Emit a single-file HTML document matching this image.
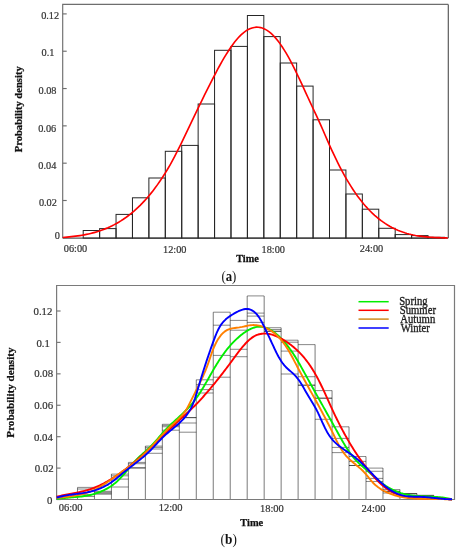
<!DOCTYPE html>
<html><head><meta charset="utf-8"><title>Probability density</title>
<style>html,body{margin:0;padding:0;background:#fff;width:460px;height:550px;overflow:hidden}svg{display:block}</style>
</head><body>
<svg width="460" height="550" viewBox="0 0 460 550">
<rect width="460" height="550" fill="#fff"/>
<g stroke="#6e6e6e" stroke-width="1.15" fill="none">
<path d="M62.70,238.10 V4.40 H448.30"/>
<path d="M448.30,4.40 V238.10" stroke="#555"/>
<path d="M62.70,238.10 H448.30" stroke="#555"/>
<path d="M62.70,13.90 h4"/>
<path d="M62.70,51.22 h4"/>
<path d="M62.70,88.54 h4"/>
<path d="M62.70,125.86 h4"/>
<path d="M62.70,163.18 h4"/>
<path d="M62.70,200.50 h4"/>
<path d="M62.70,237.82 h4"/>
</g>
<g fill="none" stroke="#262626" stroke-width="1.0"><rect x="83.20" y="230.50" width="16.42" height="7.60"/><rect x="99.62" y="228.60" width="16.42" height="9.50"/><rect x="116.04" y="214.40" width="16.42" height="23.70"/><rect x="132.46" y="197.80" width="16.42" height="40.30"/><rect x="148.88" y="178.00" width="16.42" height="60.10"/><rect x="165.30" y="151.30" width="16.42" height="86.80"/><rect x="181.72" y="145.40" width="16.42" height="92.70"/><rect x="198.14" y="104.00" width="16.42" height="134.10"/><rect x="214.56" y="50.30" width="16.42" height="187.80"/><rect x="230.98" y="46.40" width="16.42" height="191.70"/><rect x="247.40" y="15.50" width="16.42" height="222.60"/><rect x="263.82" y="36.60" width="16.42" height="201.50"/><rect x="280.24" y="63.00" width="16.42" height="175.10"/><rect x="296.66" y="86.10" width="16.42" height="152.00"/><rect x="313.08" y="119.80" width="16.42" height="118.30"/><rect x="329.50" y="170.00" width="16.42" height="68.10"/><rect x="345.92" y="194.00" width="16.42" height="44.10"/><rect x="362.34" y="209.20" width="16.42" height="28.90"/><rect x="378.76" y="228.30" width="16.42" height="9.80"/><rect x="395.18" y="234.60" width="16.42" height="3.50"/><rect x="411.60" y="235.60" width="16.42" height="2.50"/><rect x="428.02" y="237.30" width="16.42" height="0.80"/></g>
<path d="M62.70,237.45 L64.85,237.28 L67.00,237.09 L69.15,236.89 L71.31,236.67 L73.46,236.43 L75.61,236.17 L77.76,235.88 L79.91,235.56 L82.06,235.21 L84.21,234.83 L86.37,234.41 L88.52,233.95 L90.67,233.46 L92.82,232.92 L94.97,232.33 L97.12,231.70 L99.27,231.02 L101.43,230.28 L103.58,229.49 L105.73,228.64 L107.88,227.74 L110.03,226.77 L112.18,225.74 L114.33,224.64 L116.48,223.47 L118.64,222.22 L120.79,220.91 L122.94,219.52 L125.09,218.05 L127.24,216.49 L129.39,214.86 L131.54,213.14 L133.70,211.33 L135.85,209.42 L138.00,207.43 L140.15,205.34 L142.30,203.15 L144.45,200.86 L146.60,198.47 L148.76,195.97 L150.91,193.36 L153.06,190.65 L155.21,187.82 L157.36,184.87 L159.51,181.81 L161.66,178.63 L163.82,175.32 L165.97,171.88 L168.12,168.29 L170.27,164.57 L172.42,160.69 L174.57,156.66 L176.72,152.49 L178.88,148.21 L181.03,143.84 L183.18,139.40 L185.33,134.92 L187.48,130.43 L189.63,125.92 L191.78,121.42 L193.94,116.92 L196.09,112.43 L198.24,107.96 L200.39,103.51 L202.54,99.09 L204.69,94.70 L206.84,90.36 L208.99,86.06 L211.15,81.81 L213.30,77.63 L215.45,73.51 L217.60,69.46 L219.75,65.51 L221.90,61.67 L224.05,57.96 L226.21,54.38 L228.36,50.96 L230.51,47.72 L232.66,44.66 L234.81,41.81 L236.96,39.18 L239.11,36.79 L241.27,34.65 L243.42,32.77 L245.57,31.16 L247.72,29.82 L249.87,28.75 L252.02,27.95 L254.17,27.44 L256.33,27.20 L258.48,27.25 L260.63,27.58 L262.78,28.20 L264.93,29.12 L267.08,30.33 L269.23,31.84 L271.39,33.64 L273.54,35.74 L275.69,38.11 L277.84,40.74 L279.99,43.62 L282.14,46.75 L284.29,50.11 L286.45,53.68 L288.60,57.46 L290.75,61.43 L292.90,65.59 L295.05,69.89 L297.20,74.33 L299.35,78.86 L301.51,83.47 L303.66,88.13 L305.81,92.81 L307.96,97.49 L310.11,102.13 L312.26,106.74 L314.41,111.32 L316.56,115.92 L318.72,120.59 L320.87,125.37 L323.02,130.27 L325.17,135.23 L327.32,140.19 L329.47,145.08 L331.62,149.84 L333.78,154.47 L335.93,158.96 L338.08,163.32 L340.23,167.54 L342.38,171.61 L344.53,175.54 L346.68,179.32 L348.84,182.95 L350.99,186.42 L353.14,189.74 L355.29,192.91 L357.44,195.94 L359.59,198.83 L361.74,201.57 L363.90,204.19 L366.05,206.67 L368.20,209.02 L370.35,211.25 L372.50,213.35 L374.65,215.34 L376.80,217.22 L378.96,218.98 L381.11,220.64 L383.26,222.19 L385.41,223.65 L387.56,225.00 L389.71,226.27 L391.86,227.44 L394.02,228.53 L396.17,229.54 L398.32,230.46 L400.47,231.31 L402.62,232.09 L404.77,232.80 L406.92,233.45 L409.07,234.03 L411.23,234.56 L413.38,235.03 L415.53,235.45 L417.68,235.82 L419.83,236.15 L421.98,236.44 L424.13,236.69 L426.29,236.90 L428.44,237.09 L430.59,237.25 L432.74,237.38 L434.89,237.50 L437.04,237.60 L439.19,237.69 L441.35,237.77 L443.50,237.84 L445.65,237.91 L447.80,237.99" fill="none" stroke="#ff0000" stroke-width="1.65"/>
<g stroke="#7a7a7a" stroke-width="1.2" fill="none">
<path d="M56.6,285.5 L454.5,285.5 L454.5,499.5 L56.6,499.5 Z"/>
<path d="M56.60,311.00 h4"/>
<path d="M56.60,342.42 h4"/>
<path d="M56.60,373.84 h4"/>
<path d="M56.60,405.26 h4"/>
<path d="M56.60,436.68 h4"/>
<path d="M56.60,468.10 h4"/>
<path d="M56.60,499.52 h4"/>
</g>
<path d="M77.50,487.40V499.50M94.47,487.40V499.50M111.44,474.10V499.50M128.41,462.40V499.50M145.38,446.10V499.50M162.35,424.30V499.50M179.32,417.60V499.50M196.29,379.80V499.50M213.26,312.20V499.50M230.23,312.20V499.50M247.20,295.90V499.50M264.17,295.90V499.50M281.14,327.70V499.50M298.11,340.20V499.50M315.08,344.60V499.50M332.05,390.60V499.50M349.02,426.80V499.50M365.99,456.50V499.50M382.96,468.10V499.50M399.93,489.60V499.50M416.90,493.50V499.50M433.87,495.40V499.50" fill="none" stroke="#808080" stroke-width="1.05"/>
<g fill="none" stroke="#000" stroke-opacity="0.45" stroke-width="1.05"><path d="M77.50,487.40H94.47"/><path d="M77.50,489.00H94.47"/><path d="M77.50,494.60H94.47"/><path d="M77.50,496.50H94.47"/><path d="M94.47,491.30H111.44"/><path d="M94.47,492.30H111.44"/><path d="M94.47,493.30H111.44"/><path d="M94.47,494.20H111.44"/><path d="M111.44,474.10H128.41"/><path d="M111.44,475.80H128.41"/><path d="M111.44,479.10H128.41"/><path d="M111.44,487.00H128.41"/><path d="M128.41,462.40H145.38"/><path d="M128.41,463.70H145.38"/><path d="M128.41,467.60H145.38"/><path d="M128.41,468.20H145.38"/><path d="M145.38,446.10H162.35"/><path d="M145.38,447.40H162.35"/><path d="M145.38,449.00H162.35"/><path d="M145.38,453.30H162.35"/><path d="M162.35,424.30H179.32"/><path d="M162.35,425.40H179.32"/><path d="M162.35,426.70H179.32"/><path d="M162.35,430.20H179.32"/><path d="M179.32,417.60H196.29"/><path d="M179.32,417.60H196.29"/><path d="M179.32,423.00H196.29"/><path d="M179.32,432.20H196.29"/><path d="M196.29,379.80H213.26"/><path d="M196.29,384.60H213.26"/><path d="M196.29,389.60H213.26"/><path d="M196.29,393.00H213.26"/><path d="M213.26,312.20H230.23"/><path d="M213.26,325.20H230.23"/><path d="M213.26,355.40H230.23"/><path d="M213.26,377.20H230.23"/><path d="M230.23,320.40H247.20"/><path d="M230.23,330.20H247.20"/><path d="M230.23,349.30H247.20"/><path d="M230.23,356.70H247.20"/><path d="M247.20,295.90H264.17"/><path d="M247.20,313.10H264.17"/><path d="M247.20,316.10H264.17"/><path d="M247.20,322.40H264.17"/><path d="M264.17,327.70H281.14"/><path d="M264.17,329.50H281.14"/><path d="M264.17,331.30H281.14"/><path d="M264.17,331.30H281.14"/><path d="M281.14,340.20H298.11"/><path d="M281.14,342.20H298.11"/><path d="M281.14,351.10H298.11"/><path d="M281.14,374.00H298.11"/><path d="M298.11,344.60H315.08"/><path d="M298.11,376.70H315.08"/><path d="M298.11,385.20H315.08"/><path d="M298.11,385.20H315.08"/><path d="M315.08,390.60H332.05"/><path d="M315.08,398.20H332.05"/><path d="M315.08,398.20H332.05"/><path d="M315.08,419.30H332.05"/><path d="M332.05,426.80H349.02"/><path d="M332.05,438.40H349.02"/><path d="M332.05,447.40H349.02"/><path d="M332.05,452.60H349.02"/><path d="M349.02,456.50H365.99"/><path d="M349.02,461.40H365.99"/><path d="M349.02,465.50H365.99"/><path d="M349.02,465.50H365.99"/><path d="M365.99,468.10H382.96"/><path d="M365.99,471.30H382.96"/><path d="M365.99,478.40H382.96"/><path d="M365.99,481.50H382.96"/><path d="M382.96,489.60H399.93"/><path d="M382.96,491.40H399.93"/><path d="M382.96,491.40H399.93"/><path d="M382.96,493.00H399.93"/><path d="M399.93,493.50H416.90"/><path d="M399.93,493.50H416.90"/><path d="M399.93,495.00H416.90"/><path d="M399.93,496.50H416.90"/><path d="M416.90,495.40H433.87"/><path d="M416.90,495.40H433.87"/><path d="M416.90,497.00H433.87"/><path d="M416.90,498.00H433.87"/></g>
<path d="M56.66,498.93 L57.99,498.74 L59.34,498.56 L60.69,498.39 L62.05,498.24 L63.42,498.10 L64.80,497.97 L66.18,497.85 L67.57,497.73 L68.96,497.62 L70.35,497.51 L71.75,497.40 L73.15,497.28 L74.56,497.16 L75.96,497.04 L77.36,496.91 L78.76,496.76 L80.16,496.61 L81.56,496.44 L82.95,496.26 L84.34,496.06 L85.73,495.84 L87.11,495.60 L88.48,495.33 L89.84,495.05 L91.20,494.73 L92.55,494.39 L93.89,494.02 L95.22,493.62 L96.53,493.20 L97.84,492.74 L99.14,492.26 L100.42,491.76 L101.69,491.22 L102.94,490.66 L104.18,490.07 L105.41,489.46 L106.62,488.81 L107.81,488.14 L108.99,487.44 L110.15,486.71 L111.29,485.96 L112.41,485.18 L113.51,484.37 L114.59,483.53 L115.65,482.66 L116.69,481.77 L117.71,480.85 L118.71,479.91 L119.68,478.93 L120.64,477.94 L121.59,476.93 L122.52,475.90 L123.44,474.86 L124.35,473.80 L125.25,472.73 L126.15,471.66 L127.04,470.58 L127.93,469.49 L128.82,468.41 L129.71,467.32 L130.61,466.24 L131.51,465.16 L132.42,464.09 L133.34,463.03 L134.26,461.99 L135.21,460.95 L136.16,459.94 L137.14,458.94 L138.13,457.96 L139.13,457.00 L140.15,456.06 L141.18,455.12 L142.22,454.20 L143.25,453.27 L144.29,452.35 L145.33,451.43 L146.37,450.51 L147.39,449.58 L148.41,448.64 L149.41,447.68 L150.40,446.71 L151.37,445.73 L152.33,444.72 L153.27,443.71 L154.21,442.68 L155.13,441.64 L156.05,440.60 L156.96,439.55 L157.86,438.49 L158.77,437.44 L159.67,436.38 L160.58,435.32 L161.49,434.27 L162.41,433.23 L163.33,432.19 L164.27,431.16 L165.21,430.14 L166.17,429.13 L167.14,428.14 L168.12,427.16 L169.11,426.18 L170.11,425.22 L171.11,424.26 L172.12,423.30 L173.14,422.36 L174.16,421.41 L175.18,420.47 L176.20,419.53 L177.23,418.60 L178.25,417.66 L179.27,416.72 L180.29,415.78 L181.31,414.83 L182.31,413.88 L183.32,412.93 L184.31,411.96 L185.30,410.99 L186.27,410.02 L187.24,409.03 L188.19,408.03 L189.13,407.02 L190.06,406.00 L190.97,404.96 L191.86,403.91 L192.74,402.84 L193.60,401.76 L194.45,400.66 L195.28,399.55 L196.10,398.43 L196.91,397.30 L197.70,396.16 L198.49,395.01 L199.26,393.85 L200.02,392.68 L200.77,391.50 L201.51,390.32 L202.25,389.12 L202.97,387.93 L203.69,386.72 L204.41,385.52 L205.12,384.31 L205.82,383.09 L206.52,381.88 L207.21,380.66 L207.91,379.44 L208.60,378.22 L209.29,377.00 L209.98,375.78 L210.66,374.57 L211.35,373.35 L212.04,372.14 L212.74,370.94 L213.43,369.73 L214.13,368.54 L214.83,367.35 L215.54,366.16 L216.25,364.98 L216.97,363.81 L217.69,362.64 L218.42,361.49 L219.16,360.33 L219.91,359.19 L220.67,358.05 L221.44,356.92 L222.22,355.79 L223.01,354.68 L223.81,353.57 L224.62,352.47 L225.45,351.38 L226.29,350.29 L227.15,349.22 L228.02,348.15 L228.91,347.09 L229.82,346.04 L230.74,344.99 L231.68,343.96 L232.64,342.94 L233.62,341.92 L234.62,340.91 L235.65,339.92 L236.69,338.93 L237.75,337.95 L238.84,336.99 L239.95,336.03 L241.08,335.10 L242.23,334.19 L243.39,333.32 L244.57,332.47 L245.76,331.67 L246.97,330.90 L248.19,330.19 L249.41,329.53 L250.65,328.92 L251.89,328.38 L253.14,327.90 L254.39,327.50 L255.64,327.17 L256.89,326.93 L258.14,326.77 L259.40,326.70 L260.64,326.72 L261.88,326.84 L263.12,327.04 L264.35,327.32 L265.58,327.68 L266.79,328.12 L268.00,328.63 L269.20,329.21 L270.39,329.85 L271.56,330.55 L272.73,331.30 L273.88,332.11 L275.02,332.97 L276.14,333.86 L277.25,334.80 L278.34,335.78 L279.42,336.79 L280.48,337.82 L281.52,338.89 L282.53,339.97 L283.53,341.07 L284.51,342.18 L285.47,343.30 L286.40,344.43 L287.31,345.56 L288.20,346.69 L289.07,347.83 L289.91,348.97 L290.74,350.11 L291.56,351.26 L292.35,352.41 L293.13,353.57 L293.89,354.73 L294.64,355.89 L295.38,357.05 L296.10,358.22 L296.82,359.39 L297.52,360.56 L298.22,361.74 L298.90,362.91 L299.58,364.09 L300.26,365.28 L300.92,366.46 L301.59,367.65 L302.25,368.84 L302.90,370.03 L303.56,371.22 L304.21,372.42 L304.87,373.61 L305.53,374.81 L306.19,376.01 L306.85,377.21 L307.51,378.41 L308.17,379.62 L308.84,380.82 L309.51,382.03 L310.18,383.24 L310.85,384.45 L311.52,385.66 L312.19,386.87 L312.87,388.08 L313.54,389.30 L314.22,390.51 L314.90,391.73 L315.58,392.94 L316.26,394.16 L316.94,395.38 L317.62,396.60 L318.31,397.82 L318.99,399.04 L319.67,400.26 L320.36,401.48 L321.04,402.70 L321.73,403.92 L322.41,405.15 L323.10,406.37 L323.78,407.59 L324.47,408.82 L325.16,410.04 L325.84,411.26 L326.53,412.49 L327.21,413.71 L327.90,414.93 L328.58,416.16 L329.27,417.38 L329.95,418.61 L330.63,419.83 L331.32,421.05 L332.00,422.27 L332.68,423.50 L333.36,424.72 L334.04,425.94 L334.71,427.16 L335.39,428.38 L336.07,429.60 L336.74,430.82 L337.41,432.04 L338.09,433.25 L338.76,434.47 L339.43,435.68 L340.10,436.90 L340.78,438.10 L341.45,439.31 L342.14,440.51 L342.82,441.70 L343.52,442.89 L344.22,444.08 L344.93,445.26 L345.65,446.42 L346.37,447.59 L347.11,448.74 L347.87,449.88 L348.63,451.01 L349.41,452.14 L350.21,453.25 L351.02,454.35 L351.85,455.43 L352.70,456.51 L353.57,457.57 L354.46,458.61 L355.37,459.64 L356.30,460.65 L357.26,461.65 L358.24,462.63 L359.25,463.60 L360.28,464.54 L361.33,465.47 L362.40,466.40 L363.48,467.31 L364.56,468.23 L365.65,469.14 L366.73,470.06 L367.80,470.98 L368.87,471.92 L369.92,472.86 L370.97,473.80 L372.01,474.75 L373.05,475.69 L374.10,476.64 L375.14,477.57 L376.18,478.50 L377.24,479.42 L378.30,480.32 L379.37,481.20 L380.46,482.06 L381.56,482.90 L382.68,483.72 L383.81,484.52 L384.95,485.29 L386.11,486.05 L387.27,486.77 L388.46,487.48 L389.65,488.16 L390.86,488.81 L392.07,489.44 L393.31,490.04 L394.55,490.61 L395.80,491.16 L397.07,491.68 L398.35,492.17 L399.63,492.63 L400.93,493.06 L402.24,493.46 L403.56,493.84 L404.89,494.18 L406.23,494.49 L407.59,494.76 L408.95,495.01 L410.31,495.24 L411.69,495.43 L413.07,495.61 L414.46,495.76 L415.86,495.90 L417.26,496.01 L418.66,496.12 L420.07,496.21 L421.48,496.29 L422.89,496.36 L424.31,496.42 L425.72,496.48 L427.14,496.54 L428.56,496.59 L429.97,496.65 L431.39,496.71 L432.80,496.77 L434.20,496.84 L435.61,496.93 L437.01,497.02 L438.40,497.12 L439.79,497.25 L441.17,497.38 L442.55,497.54 L443.92,497.72 L445.27,497.92 L446.62,498.15 L447.96,498.41 L449.29,498.69 L450.61,499.00 L451.92,499.35" fill="none" stroke="#00ee00" stroke-width="1.9" stroke-linejoin="round"/>
<path d="M56.64,496.79 L57.94,496.46 L59.24,496.14 L60.55,495.84 L61.87,495.54 L63.19,495.26 L64.52,494.99 L65.86,494.72 L67.20,494.46 L68.54,494.20 L69.89,493.94 L71.24,493.69 L72.59,493.43 L73.94,493.17 L75.29,492.91 L76.64,492.64 L77.98,492.36 L79.33,492.08 L80.67,491.78 L82.01,491.48 L83.34,491.16 L84.66,490.82 L85.98,490.47 L87.30,490.10 L88.60,489.72 L89.90,489.31 L91.18,488.88 L92.46,488.43 L93.73,487.96 L94.98,487.46 L96.23,486.95 L97.47,486.42 L98.71,485.87 L99.93,485.30 L101.15,484.71 L102.35,484.11 L103.55,483.49 L104.75,482.85 L105.93,482.20 L107.11,481.54 L108.28,480.86 L109.44,480.17 L110.60,479.46 L111.75,478.75 L112.90,478.02 L114.03,477.29 L115.17,476.54 L116.29,475.79 L117.42,475.02 L118.53,474.25 L119.64,473.47 L120.75,472.69 L121.85,471.89 L122.94,471.09 L124.03,470.28 L125.12,469.47 L126.20,468.65 L127.28,467.82 L128.35,466.99 L129.42,466.15 L130.48,465.30 L131.54,464.45 L132.59,463.59 L133.64,462.73 L134.69,461.86 L135.73,460.99 L136.77,460.11 L137.81,459.22 L138.84,458.34 L139.86,457.44 L140.89,456.55 L141.91,455.65 L142.93,454.74 L143.94,453.83 L144.95,452.92 L145.96,452.00 L146.97,451.09 L147.97,450.16 L148.97,449.24 L149.97,448.31 L150.96,447.38 L151.95,446.45 L152.94,445.51 L153.93,444.58 L154.92,443.64 L155.90,442.70 L156.88,441.75 L157.86,440.81 L158.84,439.87 L159.81,438.92 L160.79,437.97 L161.76,437.03 L162.73,436.08 L163.70,435.13 L164.67,434.18 L165.63,433.23 L166.60,432.28 L167.56,431.33 L168.53,430.39 L169.50,429.44 L170.46,428.50 L171.43,427.55 L172.40,426.61 L173.37,425.67 L174.35,424.73 L175.32,423.80 L176.30,422.87 L177.29,421.94 L178.28,421.02 L179.27,420.10 L180.27,419.18 L181.27,418.27 L182.28,417.36 L183.29,416.45 L184.30,415.54 L185.31,414.63 L186.32,413.72 L187.33,412.80 L188.33,411.88 L189.33,410.96 L190.33,410.03 L191.32,409.09 L192.30,408.14 L193.28,407.18 L194.25,406.22 L195.22,405.25 L196.18,404.27 L197.13,403.29 L198.08,402.30 L199.02,401.31 L199.95,400.31 L200.88,399.30 L201.81,398.29 L202.72,397.28 L203.64,396.26 L204.54,395.24 L205.45,394.21 L206.34,393.19 L207.24,392.15 L208.12,391.12 L209.01,390.08 L209.88,389.05 L210.76,388.01 L211.62,386.97 L212.49,385.92 L213.34,384.88 L214.20,383.84 L215.05,382.79 L215.90,381.75 L216.74,380.70 L217.58,379.65 L218.41,378.60 L219.25,377.55 L220.08,376.50 L220.91,375.44 L221.73,374.38 L222.56,373.32 L223.38,372.25 L224.20,371.18 L225.02,370.11 L225.84,369.04 L226.65,367.96 L227.47,366.88 L228.29,365.79 L229.10,364.70 L229.92,363.60 L230.73,362.50 L231.55,361.40 L232.37,360.28 L233.19,359.17 L234.01,358.05 L234.83,356.92 L235.65,355.80 L236.48,354.67 L237.32,353.54 L238.16,352.42 L239.01,351.30 L239.87,350.19 L240.75,349.08 L241.63,347.99 L242.53,346.90 L243.44,345.83 L244.37,344.78 L245.31,343.74 L246.27,342.72 L247.25,341.73 L248.25,340.77 L249.27,339.85 L250.31,338.97 L251.37,338.14 L252.46,337.37 L253.56,336.66 L254.69,336.02 L255.84,335.45 L257.02,334.96 L258.21,334.54 L259.43,334.20 L260.66,333.94 L261.90,333.74 L263.16,333.62 L264.43,333.57 L265.71,333.58 L266.99,333.67 L268.28,333.82 L269.57,334.04 L270.86,334.32 L272.14,334.67 L273.42,335.07 L274.70,335.53 L275.96,336.04 L277.22,336.60 L278.47,337.19 L279.71,337.82 L280.94,338.47 L282.15,339.15 L283.35,339.85 L284.54,340.57 L285.72,341.31 L286.88,342.08 L288.02,342.86 L289.15,343.66 L290.27,344.49 L291.37,345.33 L292.45,346.19 L293.52,347.06 L294.57,347.96 L295.61,348.87 L296.63,349.79 L297.63,350.73 L298.62,351.69 L299.58,352.66 L300.53,353.64 L301.47,354.64 L302.38,355.65 L303.27,356.67 L304.15,357.70 L305.01,358.75 L305.86,359.80 L306.68,360.87 L307.50,361.95 L308.29,363.03 L309.07,364.13 L309.84,365.24 L310.60,366.36 L311.34,367.48 L312.07,368.62 L312.78,369.76 L313.48,370.91 L314.18,372.07 L314.86,373.24 L315.53,374.41 L316.19,375.59 L316.84,376.78 L317.48,377.97 L318.12,379.17 L318.74,380.38 L319.36,381.59 L319.97,382.80 L320.58,384.02 L321.18,385.24 L321.77,386.47 L322.35,387.70 L322.94,388.94 L323.52,390.17 L324.09,391.41 L324.66,392.66 L325.23,393.90 L325.80,395.15 L326.36,396.39 L326.92,397.64 L327.48,398.89 L328.04,400.14 L328.61,401.39 L329.17,402.64 L329.73,403.89 L330.29,405.13 L330.86,406.38 L331.43,407.63 L332.00,408.87 L332.57,410.11 L333.15,411.35 L333.73,412.59 L334.31,413.82 L334.90,415.06 L335.49,416.29 L336.08,417.52 L336.68,418.74 L337.28,419.97 L337.89,421.19 L338.49,422.41 L339.11,423.63 L339.72,424.84 L340.34,426.05 L340.97,427.26 L341.60,428.47 L342.23,429.67 L342.87,430.87 L343.52,432.07 L344.16,433.27 L344.82,434.46 L345.48,435.65 L346.14,436.83 L346.81,438.02 L347.48,439.20 L348.16,440.37 L348.84,441.55 L349.53,442.72 L350.23,443.88 L350.93,445.04 L351.64,446.20 L352.35,447.36 L353.07,448.51 L353.80,449.66 L354.53,450.80 L355.26,451.94 L356.01,453.08 L356.76,454.21 L357.52,455.34 L358.28,456.47 L359.05,457.59 L359.83,458.70 L360.61,459.82 L361.41,460.93 L362.21,462.03 L363.01,463.13 L363.83,464.22 L364.65,465.31 L365.48,466.40 L366.31,467.48 L367.16,468.56 L368.01,469.63 L368.87,470.70 L369.74,471.76 L370.61,472.82 L371.50,473.87 L372.39,474.92 L373.29,475.96 L374.20,477.00 L375.12,478.02 L376.05,479.04 L377.00,480.05 L377.95,481.04 L378.92,482.02 L379.90,482.98 L380.89,483.92 L381.90,484.83 L382.93,485.73 L383.97,486.60 L385.03,487.44 L386.11,488.25 L387.21,489.03 L388.32,489.78 L389.46,490.49 L390.61,491.18 L391.78,491.83 L392.97,492.44 L394.17,493.03 L395.38,493.58 L396.61,494.10 L397.86,494.58 L399.12,495.02 L400.39,495.44 L401.68,495.81 L402.97,496.16 L404.28,496.48 L405.60,496.76 L406.92,497.02 L408.26,497.25 L409.60,497.46 L410.96,497.65 L412.32,497.81 L413.68,497.95 L415.05,498.07 L416.43,498.18 L417.81,498.27 L419.20,498.34 L420.59,498.41 L421.98,498.46 L423.37,498.50 L424.76,498.53 L426.16,498.55 L427.55,498.57 L428.95,498.58 L430.34,498.59 L431.73,498.60 L433.12,498.61 L434.50,498.63 L435.88,498.64 L437.26,498.66 L438.63,498.68 L439.99,498.72 L441.35,498.76 L442.70,498.81 L444.04,498.87 L445.38,498.95 L446.70,499.04 L448.02,499.15 L449.32,499.28 L450.61,499.42 L451.89,499.59" fill="none" stroke="#ff0000" stroke-width="1.9" stroke-linejoin="round"/>
<path d="M56.63,497.97 L58.00,497.82 L59.39,497.67 L60.78,497.52 L62.18,497.36 L63.58,497.20 L64.99,497.04 L66.41,496.87 L67.82,496.70 L69.24,496.51 L70.66,496.31 L72.08,496.11 L73.49,495.88 L74.91,495.65 L76.32,495.40 L77.72,495.13 L79.12,494.84 L80.52,494.53 L81.90,494.20 L83.28,493.85 L84.64,493.47 L86.00,493.07 L87.35,492.64 L88.68,492.19 L89.99,491.70 L91.30,491.18 L92.58,490.64 L93.86,490.06 L95.12,489.46 L96.37,488.83 L97.61,488.18 L98.83,487.51 L100.05,486.82 L101.26,486.10 L102.46,485.37 L103.65,484.63 L104.84,483.87 L106.01,483.09 L107.19,482.30 L108.36,481.51 L109.52,480.70 L110.68,479.89 L111.84,479.07 L113.00,478.25 L114.15,477.42 L115.31,476.59 L116.47,475.76 L117.63,474.94 L118.79,474.11 L119.95,473.29 L121.11,472.47 L122.27,471.65 L123.43,470.83 L124.58,470.00 L125.74,469.18 L126.89,468.35 L128.03,467.51 L129.18,466.67 L130.31,465.83 L131.45,464.98 L132.57,464.12 L133.69,463.26 L134.80,462.39 L135.90,461.50 L136.99,460.61 L138.07,459.70 L139.13,458.79 L140.19,457.86 L141.24,456.92 L142.27,455.96 L143.29,455.00 L144.31,454.02 L145.31,453.03 L146.31,452.04 L147.30,451.03 L148.28,450.02 L149.25,449.00 L150.22,447.97 L151.18,446.94 L152.15,445.90 L153.10,444.86 L154.06,443.81 L155.01,442.76 L155.96,441.71 L156.92,440.66 L157.87,439.61 L158.83,438.56 L159.78,437.51 L160.74,436.47 L161.71,435.42 L162.67,434.38 L163.65,433.34 L164.63,432.31 L165.61,431.29 L166.61,430.27 L167.61,429.26 L168.62,428.25 L169.64,427.26 L170.67,426.27 L171.72,425.30 L172.76,424.33 L173.82,423.37 L174.87,422.40 L175.92,421.44 L176.96,420.47 L177.99,419.49 L179.00,418.50 L179.99,417.50 L180.96,416.49 L181.91,415.45 L182.82,414.39 L183.70,413.30 L184.54,412.19 L185.34,411.05 L186.10,409.88 L186.83,408.68 L187.53,407.46 L188.21,406.22 L188.86,404.97 L189.51,403.71 L190.14,402.44 L190.77,401.17 L191.40,399.90 L192.03,398.63 L192.66,397.36 L193.30,396.10 L193.93,394.84 L194.57,393.58 L195.21,392.31 L195.85,391.05 L196.48,389.79 L197.12,388.53 L197.75,387.27 L198.38,386.00 L199.00,384.74 L199.62,383.47 L200.24,382.20 L200.85,380.92 L201.45,379.64 L202.05,378.36 L202.64,377.07 L203.22,375.78 L203.80,374.48 L204.36,373.18 L204.92,371.87 L205.46,370.56 L206.00,369.24 L206.52,367.91 L207.03,366.57 L207.53,365.22 L208.02,363.87 L208.50,362.51 L208.97,361.14 L209.43,359.78 L209.89,358.41 L210.36,357.04 L210.82,355.68 L211.30,354.31 L211.78,352.96 L212.27,351.61 L212.77,350.27 L213.29,348.94 L213.83,347.62 L214.39,346.31 L214.97,345.03 L215.57,343.75 L216.21,342.50 L216.87,341.27 L217.57,340.06 L218.30,338.87 L219.07,337.71 L219.89,336.58 L220.74,335.48 L221.64,334.42 L222.59,333.42 L223.59,332.48 L224.64,331.62 L225.74,330.84 L226.90,330.15 L228.12,329.57 L229.39,329.10 L230.72,328.72 L232.09,328.42 L233.50,328.17 L234.93,327.96 L236.38,327.78 L237.85,327.60 L239.31,327.41 L240.77,327.18 L242.22,326.92 L243.66,326.61 L245.08,326.29 L246.50,325.98 L247.91,325.68 L249.31,325.42 L250.71,325.22 L252.10,325.10 L253.50,325.05 L254.89,325.08 L256.27,325.19 L257.65,325.37 L259.02,325.62 L260.37,325.94 L261.72,326.32 L263.05,326.77 L264.37,327.27 L265.66,327.83 L266.94,328.44 L268.20,329.10 L269.43,329.81 L270.64,330.56 L271.83,331.35 L272.99,332.18 L274.11,333.05 L275.21,333.95 L276.27,334.88 L277.31,335.84 L278.31,336.82 L279.28,337.83 L280.22,338.87 L281.14,339.93 L282.03,341.01 L282.90,342.11 L283.75,343.23 L284.57,344.37 L285.38,345.53 L286.16,346.70 L286.93,347.89 L287.68,349.09 L288.42,350.31 L289.14,351.53 L289.85,352.77 L290.56,354.02 L291.25,355.27 L291.93,356.53 L292.61,357.79 L293.28,359.06 L293.95,360.33 L294.61,361.60 L295.28,362.88 L295.94,364.15 L296.61,365.42 L297.28,366.69 L297.95,367.95 L298.62,369.21 L299.29,370.47 L299.96,371.73 L300.64,372.99 L301.32,374.24 L301.99,375.50 L302.67,376.75 L303.35,378.00 L304.03,379.25 L304.72,380.49 L305.40,381.74 L306.08,382.98 L306.77,384.23 L307.45,385.47 L308.13,386.71 L308.82,387.95 L309.50,389.19 L310.19,390.43 L310.87,391.67 L311.56,392.91 L312.24,394.14 L312.93,395.38 L313.61,396.62 L314.29,397.86 L314.97,399.10 L315.65,400.33 L316.34,401.57 L317.02,402.81 L317.69,404.05 L318.37,405.29 L319.05,406.53 L319.72,407.77 L320.40,409.01 L321.07,410.26 L321.74,411.50 L322.41,412.74 L323.07,413.99 L323.74,415.24 L324.40,416.49 L325.06,417.74 L325.72,418.99 L326.37,420.25 L327.03,421.50 L327.68,422.76 L328.33,424.02 L328.97,425.28 L329.62,426.55 L330.26,427.82 L330.89,429.08 L331.53,430.36 L332.16,431.63 L332.79,432.91 L333.41,434.19 L334.03,435.47 L334.65,436.76 L335.27,438.04 L335.89,439.32 L336.52,440.60 L337.16,441.88 L337.81,443.14 L338.47,444.40 L339.15,445.65 L339.84,446.88 L340.56,448.10 L341.30,449.30 L342.07,450.49 L342.86,451.65 L343.68,452.80 L344.54,453.92 L345.43,455.01 L346.36,456.08 L347.33,457.13 L348.33,458.14 L349.36,459.14 L350.41,460.11 L351.48,461.07 L352.56,462.01 L353.66,462.94 L354.75,463.85 L355.85,464.75 L356.95,465.65 L358.04,466.55 L359.12,467.46 L360.19,468.38 L361.24,469.32 L362.26,470.28 L363.26,471.28 L364.24,472.31 L365.18,473.38 L366.11,474.48 L367.02,475.60 L367.93,476.72 L368.83,477.85 L369.74,478.97 L370.66,480.08 L371.60,481.17 L372.56,482.23 L373.55,483.26 L374.57,484.24 L375.62,485.19 L376.70,486.09 L377.81,486.96 L378.94,487.79 L380.10,488.59 L381.28,489.35 L382.48,490.07 L383.70,490.76 L384.94,491.42 L386.21,492.04 L387.48,492.63 L388.78,493.18 L390.09,493.71 L391.41,494.20 L392.75,494.66 L394.10,495.09 L395.45,495.50 L396.82,495.87 L398.19,496.22 L399.57,496.54 L400.96,496.83 L402.35,497.10 L403.74,497.34 L405.14,497.56 L406.55,497.76 L407.95,497.94 L409.37,498.09 L410.78,498.23 L412.20,498.36 L413.62,498.46 L415.04,498.55 L416.47,498.63 L417.89,498.70 L419.32,498.75 L420.75,498.80 L422.18,498.83 L423.62,498.86 L425.05,498.89 L426.48,498.90 L427.91,498.92 L429.34,498.93 L430.77,498.94 L432.20,498.95 L433.63,498.96 L435.06,498.97 L436.49,498.99 L437.91,499.01 L439.33,499.03 L440.75,499.07 L442.16,499.11 L443.57,499.16 L444.98,499.22 L446.38,499.29 L447.78,499.38 L449.18,499.48 L450.57,499.59 L451.95,499.73" fill="none" stroke="#ff8000" stroke-width="1.9" stroke-linejoin="round"/>
<path d="M56.67,497.70 L58.05,497.27 L59.45,496.88 L60.85,496.52 L62.27,496.20 L63.70,495.90 L65.14,495.62 L66.59,495.36 L68.05,495.13 L69.51,494.91 L70.98,494.70 L72.45,494.50 L73.92,494.30 L75.40,494.11 L76.87,493.92 L78.35,493.73 L79.82,493.53 L81.29,493.32 L82.76,493.10 L84.22,492.87 L85.67,492.62 L87.12,492.35 L88.55,492.05 L89.98,491.73 L91.40,491.38 L92.80,491.00 L94.20,490.59 L95.58,490.15 L96.95,489.68 L98.30,489.17 L99.65,488.64 L100.97,488.08 L102.29,487.49 L103.59,486.87 L104.88,486.21 L106.15,485.53 L107.41,484.82 L108.65,484.07 L109.87,483.29 L111.08,482.49 L112.27,481.65 L113.45,480.78 L114.61,479.89 L115.76,478.97 L116.90,478.04 L118.04,477.10 L119.17,476.15 L120.31,475.20 L121.44,474.26 L122.58,473.31 L123.72,472.38 L124.87,471.46 L126.03,470.54 L127.19,469.63 L128.34,468.73 L129.51,467.83 L130.67,466.93 L131.83,466.03 L132.99,465.14 L134.15,464.24 L135.31,463.34 L136.47,462.44 L137.62,461.54 L138.76,460.63 L139.91,459.71 L141.04,458.79 L142.17,457.86 L143.29,456.92 L144.40,455.97 L145.50,455.01 L146.59,454.03 L147.67,453.04 L148.74,452.04 L149.80,451.02 L150.84,449.98 L151.87,448.93 L152.90,447.87 L153.91,446.79 L154.92,445.71 L155.92,444.62 L156.93,443.54 L157.93,442.45 L158.94,441.37 L159.95,440.29 L160.98,439.23 L162.01,438.17 L163.05,437.14 L164.11,436.12 L165.18,435.11 L166.28,434.14 L167.38,433.18 L168.50,432.23 L169.63,431.30 L170.76,430.37 L171.90,429.44 L173.03,428.51 L174.17,427.57 L175.29,426.63 L176.41,425.67 L177.52,424.70 L178.61,423.71 L179.69,422.70 L180.75,421.68 L181.79,420.64 L182.81,419.58 L183.80,418.51 L184.76,417.41 L185.69,416.29 L186.59,415.15 L187.46,413.99 L188.29,412.80 L189.07,411.59 L189.82,410.36 L190.53,409.10 L191.19,407.81 L191.82,406.51 L192.42,405.18 L192.98,403.84 L193.52,402.48 L194.03,401.11 L194.52,399.72 L195.00,398.33 L195.45,396.92 L195.89,395.51 L196.33,394.09 L196.75,392.66 L197.18,391.24 L197.60,389.81 L198.02,388.39 L198.45,386.97 L198.87,385.54 L199.30,384.12 L199.73,382.70 L200.16,381.28 L200.59,379.87 L201.02,378.45 L201.46,377.04 L201.90,375.62 L202.34,374.21 L202.78,372.80 L203.22,371.39 L203.67,369.98 L204.11,368.58 L204.56,367.17 L205.02,365.77 L205.47,364.37 L205.93,362.96 L206.39,361.57 L206.85,360.17 L207.31,358.77 L207.78,357.38 L208.25,355.99 L208.72,354.60 L209.20,353.21 L209.68,351.82 L210.16,350.44 L210.64,349.06 L211.13,347.67 L211.62,346.30 L212.12,344.92 L212.61,343.54 L213.12,342.17 L213.62,340.80 L214.13,339.43 L214.64,338.06 L215.16,336.70 L215.69,335.35 L216.23,334.00 L216.80,332.67 L217.39,331.35 L218.01,330.05 L218.66,328.77 L219.34,327.51 L220.07,326.28 L220.84,325.07 L221.66,323.90 L222.54,322.76 L223.47,321.65 L224.47,320.58 L225.53,319.56 L226.65,318.58 L227.83,317.63 L229.06,316.72 L230.33,315.85 L231.63,315.00 L232.97,314.19 L234.32,313.41 L235.69,312.65 L237.07,311.92 L238.45,311.23 L239.83,310.61 L241.20,310.06 L242.57,309.60 L243.93,309.25 L245.26,309.03 L246.58,308.96 L247.88,309.05 L249.14,309.28 L250.38,309.66 L251.57,310.17 L252.72,310.81 L253.83,311.57 L254.88,312.44 L255.89,313.41 L256.86,314.47 L257.78,315.61 L258.67,316.82 L259.52,318.09 L260.34,319.41 L261.13,320.78 L261.89,322.17 L262.62,323.58 L263.33,325.01 L264.03,326.43 L264.70,327.85 L265.37,329.24 L266.02,330.61 L266.66,331.96 L267.29,333.29 L267.92,334.59 L268.54,335.89 L269.15,337.17 L269.76,338.45 L270.36,339.73 L270.96,341.00 L271.56,342.28 L272.16,343.57 L272.76,344.87 L273.37,346.18 L273.98,347.50 L274.59,348.83 L275.22,350.17 L275.86,351.50 L276.51,352.83 L277.18,354.16 L277.87,355.48 L278.57,356.79 L279.31,358.08 L280.07,359.35 L280.86,360.61 L281.67,361.83 L282.53,363.03 L283.42,364.20 L284.34,365.33 L285.31,366.43 L286.32,367.48 L287.38,368.49 L288.46,369.47 L289.56,370.44 L290.67,371.39 L291.78,372.35 L292.87,373.32 L293.93,374.32 L294.95,375.36 L295.92,376.44 L296.86,377.55 L297.77,378.70 L298.64,379.87 L299.48,381.07 L300.30,382.30 L301.09,383.54 L301.87,384.80 L302.63,386.06 L303.37,387.34 L304.11,388.63 L304.84,389.92 L305.57,391.20 L306.30,392.49 L307.04,393.76 L307.78,395.03 L308.52,396.28 L309.28,397.52 L310.04,398.76 L310.80,399.99 L311.55,401.23 L312.31,402.46 L313.06,403.70 L313.80,404.95 L314.53,406.20 L315.25,407.47 L315.95,408.75 L316.64,410.05 L317.30,411.37 L317.96,412.70 L318.60,414.05 L319.23,415.41 L319.86,416.78 L320.48,418.15 L321.09,419.53 L321.71,420.91 L322.33,422.28 L322.96,423.66 L323.59,425.02 L324.24,426.38 L324.89,427.73 L325.57,429.06 L326.26,430.38 L326.97,431.68 L327.71,432.96 L328.47,434.21 L329.26,435.44 L330.09,436.64 L330.94,437.81 L331.84,438.95 L332.77,440.05 L333.74,441.12 L334.75,442.14 L335.80,443.14 L336.88,444.11 L337.99,445.04 L339.12,445.96 L340.28,446.85 L341.46,447.73 L342.65,448.59 L343.85,449.44 L345.07,450.28 L346.29,451.12 L347.51,451.96 L348.74,452.79 L349.95,453.63 L351.16,454.48 L352.36,455.34 L353.55,456.21 L354.72,457.09 L355.87,458.00 L356.99,458.93 L358.10,459.87 L359.20,460.83 L360.28,461.80 L361.34,462.79 L362.39,463.79 L363.44,464.80 L364.47,465.82 L365.50,466.86 L366.52,467.90 L367.54,468.94 L368.55,470.00 L369.56,471.06 L370.58,472.12 L371.59,473.18 L372.61,474.25 L373.64,475.31 L374.67,476.38 L375.71,477.43 L376.76,478.49 L377.81,479.53 L378.88,480.56 L379.95,481.58 L381.04,482.59 L382.14,483.58 L383.25,484.55 L384.37,485.49 L385.51,486.42 L386.66,487.31 L387.83,488.18 L389.01,489.02 L390.21,489.83 L391.43,490.60 L392.67,491.33 L393.93,492.02 L395.20,492.67 L396.50,493.28 L397.82,493.85 L399.16,494.36 L400.53,494.83 L401.92,495.24 L403.33,495.59 L404.77,495.89 L406.24,496.13 L407.72,496.32 L409.23,496.46 L410.76,496.56 L412.29,496.63 L413.83,496.68 L415.37,496.71 L416.91,496.74 L418.45,496.77 L419.97,496.81 L421.47,496.87 L422.96,496.94 L424.44,497.04 L425.91,497.15 L427.36,497.27 L428.81,497.40 L430.25,497.54 L431.68,497.69 L433.11,497.84 L434.53,497.99 L435.96,498.15 L437.38,498.30 L438.81,498.45 L440.24,498.59 L441.68,498.73 L443.12,498.86 L444.57,498.98 L446.03,499.08 L447.50,499.17 L448.98,499.24 L450.48,499.29 L452.00,499.31" fill="none" stroke="#0000ff" stroke-width="1.9" stroke-linejoin="round"/>
<path d="M358.5,301.7 H388.7" stroke="#00ee00" stroke-width="1.5"/>
<path d="M358.5,310.3 H388.7" stroke="#ff0000" stroke-width="1.5"/>
<path d="M358.5,319.1 H388.7" stroke="#d08c1c" stroke-width="1.5"/>
<path d="M358.5,328.0 H388.7" stroke="#0000ff" stroke-width="1.5"/>
<g font-family="&quot;Liberation Serif&quot;, serif" fill="#333"><text transform="translate(41.15 18.75) scale(1.000 1.050)" font-size="10.30" stroke="#333" stroke-width="0.2">0.12</text>
<text transform="translate(41.55 56.15) scale(1.000 1.050)" font-size="10.30" stroke="#333" stroke-width="0.2">0.1</text>
<text transform="translate(38.50 93.75) scale(1.000 1.050)" font-size="10.30" stroke="#333" stroke-width="0.2">0.08</text>
<text transform="translate(38.20 131.55) scale(1.000 1.050)" font-size="10.30" stroke="#333" stroke-width="0.2">0.06</text>
<text transform="translate(38.30 168.50) scale(1.000 1.050)" font-size="10.30" stroke="#333" stroke-width="0.2">0.04</text>
<text transform="translate(38.90 205.85) scale(1.000 1.050)" font-size="10.30" stroke="#333" stroke-width="0.2">0.02</text>
<text transform="translate(54.80 238.50) scale(1.000 1.050)" font-size="10.30" stroke="#333" stroke-width="0.2">0</text>
<text transform="translate(63.80 252.25) scale(1.000 1.050)" font-size="10.30" stroke="#333" stroke-width="0.2">06:00</text>
<text transform="translate(163.00 252.55) scale(1.000 1.050)" font-size="10.30" stroke="#333" stroke-width="0.2">12:00</text>
<text transform="translate(261.55 252.95) scale(1.000 1.050)" font-size="10.30" stroke="#333" stroke-width="0.2">18:00</text>
<text transform="translate(359.80 252.25) scale(1.000 1.050)" font-size="10.30" stroke="#333" stroke-width="0.2">24:00</text>
<text transform="translate(236.15 262.40) scale(1.000 1.080)" font-size="10.30" font-weight="bold" fill="#111" stroke="#111" stroke-width="0.25">Time</text>
<text transform="translate(221.40 280.55) scale(1.000 1.080)" font-size="12.80" fill="#111">(<tspan font-weight="bold">a</tspan>)</text>
<text transform="translate(22.45 152.30) rotate(-90)" font-size="10.60" font-weight="bold" fill="#111" stroke="#111" stroke-width="0.25">Probability density</text>
<text transform="translate(33.50 315.10) scale(1.000 1.040)" font-size="10.80" stroke="#333" stroke-width="0.2">0.12</text>
<text transform="translate(36.40 346.55) scale(1.000 1.040)" font-size="10.80" stroke="#333" stroke-width="0.2">0.1</text>
<text transform="translate(34.20 377.35) scale(1.000 1.040)" font-size="10.80" stroke="#333" stroke-width="0.2">0.08</text>
<text transform="translate(34.20 409.25) scale(1.000 1.040)" font-size="10.80" stroke="#333" stroke-width="0.2">0.06</text>
<text transform="translate(33.90 441.15) scale(1.000 1.040)" font-size="10.80" stroke="#333" stroke-width="0.2">0.04</text>
<text transform="translate(34.70 472.15) scale(1.000 1.040)" font-size="10.80" stroke="#333" stroke-width="0.2">0.02</text>
<text transform="translate(47.00 503.75) scale(1.000 1.040)" font-size="10.80" stroke="#333" stroke-width="0.2">0</text>
<text transform="translate(58.65 511.35) scale(1.000 1.070)" font-size="10.50" stroke="#333" stroke-width="0.2">06:00</text>
<text transform="translate(158.65 510.80) scale(1.000 1.070)" font-size="10.50" stroke="#333" stroke-width="0.2">12:00</text>
<text transform="translate(259.95 511.50) scale(1.000 1.070)" font-size="10.50" stroke="#333" stroke-width="0.2">18:00</text>
<text transform="translate(361.50 511.50) scale(1.000 1.070)" font-size="10.50" stroke="#333" stroke-width="0.2">24:00</text>
<text transform="translate(240.30 525.70)" font-size="10.40" font-weight="bold" fill="#111" stroke="#111" stroke-width="0.25">Time</text>
<text transform="translate(220.55 543.60) scale(1.000 1.050)" font-size="13.30" fill="#111">(<tspan font-weight="bold">b</tspan>)</text>
<text transform="translate(13.50 437.65) rotate(-90)" font-size="11.10" font-weight="bold" fill="#111" stroke="#111" stroke-width="0.25">Probability density</text>
<text transform="translate(399.15 304.90) scale(1.000 1.075)" font-size="10.70" fill="#1e1e1e" stroke="#1e1e1e" stroke-width="0.3">Spring</text>
<text transform="translate(399.75 313.75) scale(1.000 1.075)" font-size="10.70" fill="#1e1e1e" stroke="#1e1e1e" stroke-width="0.3">Summer</text>
<text transform="translate(400.25 322.70) scale(1.000 1.075)" font-size="10.70" fill="#1e1e1e" stroke="#1e1e1e" stroke-width="0.3">Autumn</text>
<text transform="translate(400.65 331.80) scale(1.000 1.075)" font-size="10.70" fill="#1e1e1e" stroke="#1e1e1e" stroke-width="0.3">Winter</text></g>
</svg>
</body></html>
